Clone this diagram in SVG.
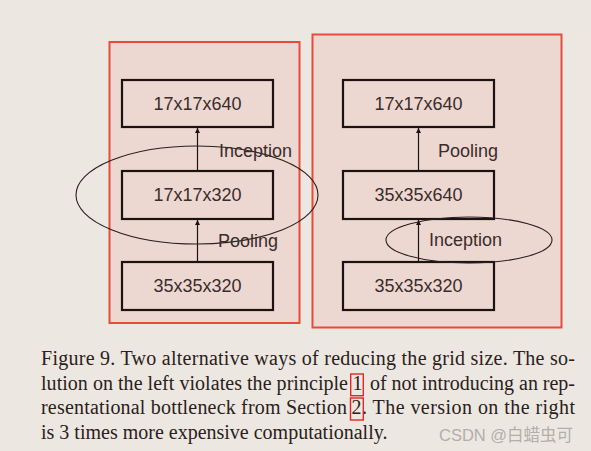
<svg xmlns="http://www.w3.org/2000/svg" width="591" height="451" viewBox="0 0 591 451">
<style>
.panel{fill:#ecd8d0;stroke:#ea4a3a;stroke-width:2}
.box{fill:none;stroke:#1c1212;stroke-width:2.2}
.lbl{font-family:"Liberation Sans",Arial,sans-serif;font-size:18px;fill:#3a2c2c}
.ell{fill:none;stroke:#2a2020;stroke-width:1.1}
.conn{stroke:#1c1212;stroke-width:1.2;fill:none}
.cap{font-family:"Liberation Serif","Times New Roman",serif;font-size:20px;fill:#2a2020}
.ref{fill:none;stroke:#e8261e;stroke-width:1.4}
</style>
<defs>
<marker id="ah" markerWidth="6" markerHeight="6" refX="5" refY="3" orient="auto" markerUnits="userSpaceOnUse">
<path d="M0,0.5 L5,3 L0,5.5 Z" fill="#1c1212"/>
</marker>
</defs>
<rect width="591" height="451" fill="#ece8e1"/>
<g id="panel-left"><rect class="panel" x="109.5" y="42" width="190" height="281"/></g>
<g id="panel-right"><rect class="panel" x="312.5" y="34.5" width="249" height="293"/></g>
<g id="connectors">
<line class="conn" x1="197.5" y1="262" x2="197.5" y2="220" marker-end="url(#ah)"/>
<line class="conn" x1="197.5" y1="171" x2="197.5" y2="128" marker-end="url(#ah)"/>
<line class="conn" x1="418.5" y1="262" x2="418.5" y2="220" marker-end="url(#ah)"/>
<line class="conn" x1="418.5" y1="171" x2="418.5" y2="128" marker-end="url(#ah)"/>
</g>
<g id="left-top"><rect class="box" x="122" y="80" width="151" height="47"/><text class="lbl" x="197.5" y="110" text-anchor="middle">17x17x640</text></g>
<g id="left-mid"><rect class="box" x="122" y="171" width="151" height="48"/><text class="lbl" x="197.5" y="201" text-anchor="middle">17x17x320</text></g>
<g id="left-bot"><rect class="box" x="122" y="262" width="151" height="48"/><text class="lbl" x="197.5" y="292" text-anchor="middle">35x35x320</text></g>
<g id="left-inception"><ellipse class="ell" cx="197" cy="195" rx="121" ry="49"/><text class="lbl" x="219" y="157">Inception</text></g>
<g id="left-pooling"><text class="lbl" x="218" y="247">Pooling</text></g>
<g id="right-top"><rect class="box" x="343" y="80" width="151" height="47"/><text class="lbl" x="418.5" y="110" text-anchor="middle">17x17x640</text></g>
<g id="right-mid"><rect class="box" x="343" y="171" width="151" height="48"/><text class="lbl" x="418.5" y="201" text-anchor="middle">35x35x640</text></g>
<g id="right-bot"><rect class="box" x="343" y="262" width="151" height="48"/><text class="lbl" x="418.5" y="292" text-anchor="middle">35x35x320</text></g>
<g id="right-pooling"><text class="lbl" x="438" y="157">Pooling</text></g>
<g id="right-inception"><ellipse class="ell" cx="469" cy="240" rx="83" ry="23"/><text class="lbl" x="429" y="246">Inception</text></g>
<g id="caption">
<text class="cap" x="41" y="365" textLength="534" lengthAdjust="spacing">Figure 9. Two alternative ways of reducing the grid size. The so-</text>
<text class="cap" x="41" y="390" textLength="307" lengthAdjust="spacing">lution on the left violates the principle</text>
<text class="cap" x="352.5" y="390">1</text>
<text class="cap" x="370" y="390" textLength="205" lengthAdjust="spacing">of not introducing an rep-</text>
<text class="cap" x="41" y="414" textLength="306" lengthAdjust="spacing">resentational bottleneck from Section</text>
<text class="cap" x="351.5" y="414">2</text>
<text class="cap" x="362" y="414" textLength="213" lengthAdjust="spacing">. The version on the right</text>
<text class="cap" x="41" y="439">is 3 times more expensive computationally.</text>
<rect class="ref" x="350.7" y="374" width="12.6" height="21.7"/>
<rect class="ref" x="350.5" y="398" width="12.8" height="22"/>
</g>
<text x="439" y="441" font-family="'Liberation Sans','Noto Sans CJK SC',sans-serif" font-size="16.5" fill="#b2aeaa">CSDN @白蜡虫可</text>
</svg>
